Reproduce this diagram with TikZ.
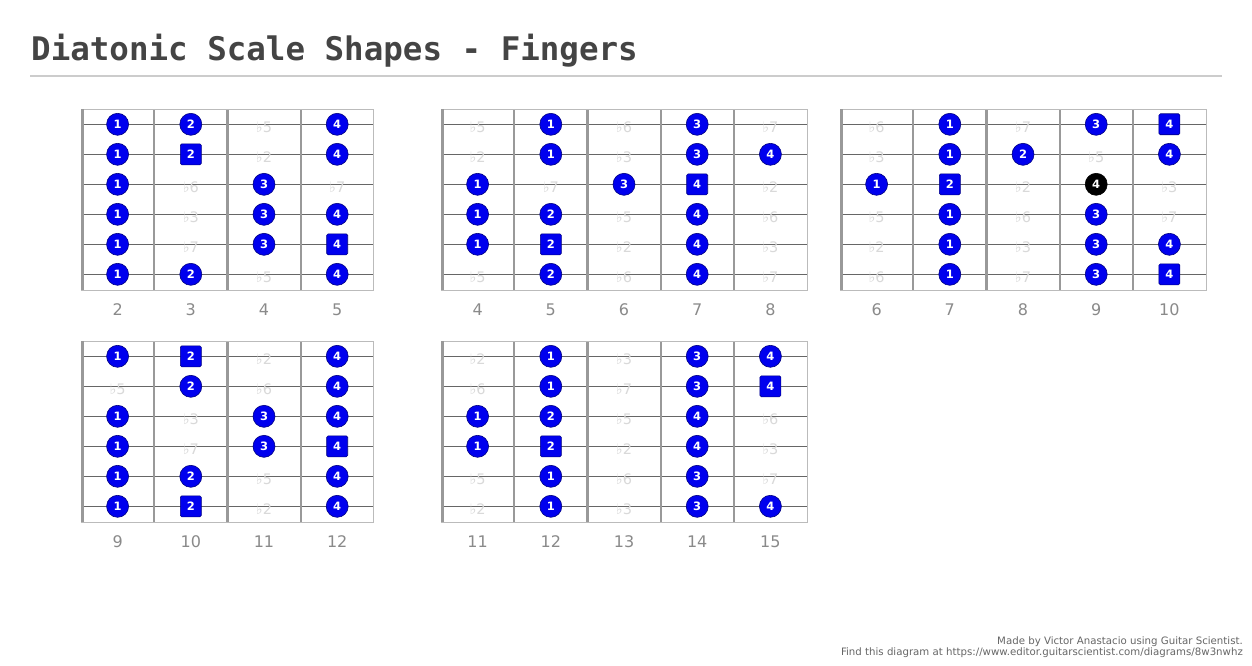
\documentclass[tikz,border=0pt]{standalone}
\usepackage{fontspec}
\setmainfont{DejaVu Sans}
\newfontfamily\titlefont{DejaVu Sans Mono}
\usepackage{xcolor}
\usepackage{tikz}
\usetikzlibrary{calc}

\definecolor{dotblue}{HTML}{0000EE}
\definecolor{ghostgray}{HTML}{D9D9D9}
\definecolor{fretgray}{HTML}{999999}
\definecolor{stringgray}{HTML}{666666}
\definecolor{boxgray}{HTML}{BBBBBB}
\definecolor{numgray}{HTML}{8A8A8A}
\definecolor{titlegray}{HTML}{444444}
\definecolor{rulegray}{HTML}{CCCCCC}
\definecolor{footgray}{HTML}{666666}

\tikzset{
  fnote/.style={circle, fill=dotblue, draw=dotblue!55!black, line width=0.6pt,
    minimum size=22pt, inner sep=0pt, text=white,
    font=\bfseries\fontsize{11.5}{11.5}\selectfont},
  froot/.style={fnote, rectangle, rounded corners=1.5pt, minimum size=21pt},
  fmark/.style={fnote, fill=black, draw=black},
  ghost/.style={text=ghostgray, inner sep=0pt, anchor=base, yshift=-8pt,
    font=\fontsize{14.5}{14.5}\selectfont},
  fretnum/.style={text=numgray, inner sep=0pt, font=\fontsize{16}{16}\selectfont}
}

% fretboard: name, left, top, number of frets, first fret, rows of notes
\newcommand{\fboard}[6]{%
  \begin{scope}[shift={(#2,#3)}]
    \pgfmathsetmacro\bw{#4*73.2}
    \pgfmathtruncatemacro\lastf{#4-1}
    % strings
    \foreach \s in {1,...,6}
      \draw[stringgray, line width=1pt] (0,{\s*30-15}) -- (\bw,{\s*30-15});
    % frets and nut
    \foreach \f in {1,...,\lastf}
      \draw[fretgray, line width=2.2pt] ({\f*73.2},0) -- ({\f*73.2},181);
    \draw[boxgray, line width=1pt] (0,0) rectangle (\bw,181);
    \draw[fretgray, line width=2.6pt] (1.2,0) -- (1.2,181);
    % fret numbers
    \foreach \c in {1,...,#4} {
      \pgfmathtruncatemacro\fn{#5+\c-1}
      \node[fretnum] (#1-n\c) at ({(\c-0.5)*73.2},200.7) {\fn};
    }
    % notes
    \foreach \r/\row in {#6}
      \foreach[count=\c] \k/\t in \row
        \node[\k] (#1-\r-\c) at ({(\c-0.5)*73.2},{\r*30-15}) {\t};
  \end{scope}}

\begin{document}
\begin{tikzpicture}[x=1pt, y=-1pt]
    \fill[white] (0,0) rectangle (1252,666);
    \useasboundingbox (0,0) rectangle (1252,666);

    % Title
    \node[anchor=base west, inner sep=0pt, text=titlegray,
      font=\titlefont\bfseries\fontsize{32.5}{32.5}\selectfont] (title) at (31,61)
      {Diatonic Scale Shapes - Fingers};
    \draw[rulegray, line width=2pt] (30,75.7) -- (1222,75.7);

    % Shapes, top row
    \fboard{a}{81}{109.3}{4}{2}{
      1/{fnote/1,fnote/2,ghost/♭5,fnote/4},
      2/{fnote/1,froot/2,ghost/♭2,fnote/4},
      3/{fnote/1,ghost/♭6,fnote/3,ghost/♭7},
      4/{fnote/1,ghost/♭3,fnote/3,fnote/4},
      5/{fnote/1,ghost/♭7,fnote/3,froot/4},
      6/{fnote/1,fnote/2,ghost/♭5,fnote/4}}
    \fboard{b}{441}{109.3}{5}{4}{
      1/{ghost/♭5,fnote/1,ghost/♭6,fnote/3,ghost/♭7},
      2/{ghost/♭2,fnote/1,ghost/♭3,fnote/3,fnote/4},
      3/{fnote/1,ghost/♭7,fnote/3,froot/4,ghost/♭2},
      4/{fnote/1,fnote/2,ghost/♭5,fnote/4,ghost/♭6},
      5/{fnote/1,froot/2,ghost/♭2,fnote/4,ghost/♭3},
      6/{ghost/♭5,fnote/2,ghost/♭6,fnote/4,ghost/♭7}}
    \fboard{c}{840}{109.3}{5}{6}{
      1/{ghost/♭6,fnote/1,ghost/♭7,fnote/3,froot/4},
      2/{ghost/♭3,fnote/1,fnote/2,ghost/♭5,fnote/4},
      3/{fnote/1,froot/2,ghost/♭2,fmark/4,ghost/♭3},
      4/{ghost/♭5,fnote/1,ghost/♭6,fnote/3,ghost/♭7},
      5/{ghost/♭2,fnote/1,ghost/♭3,fnote/3,fnote/4},
      6/{ghost/♭6,fnote/1,ghost/♭7,fnote/3,froot/4}}

    % Shapes, bottom row
    \fboard{d}{81}{341.3}{4}{9}{
      1/{fnote/1,froot/2,ghost/♭2,fnote/4},
      2/{ghost/♭5,fnote/2,ghost/♭6,fnote/4},
      3/{fnote/1,ghost/♭3,fnote/3,fnote/4},
      4/{fnote/1,ghost/♭7,fnote/3,froot/4},
      5/{fnote/1,fnote/2,ghost/♭5,fnote/4},
      6/{fnote/1,froot/2,ghost/♭2,fnote/4}}
    \fboard{e}{441}{341.3}{5}{11}{
      1/{ghost/♭2,fnote/1,ghost/♭3,fnote/3,fnote/4},
      2/{ghost/♭6,fnote/1,ghost/♭7,fnote/3,froot/4},
      3/{fnote/1,fnote/2,ghost/♭5,fnote/4,ghost/♭6},
      4/{fnote/1,froot/2,ghost/♭2,fnote/4,ghost/♭3},
      5/{ghost/♭5,fnote/1,ghost/♭6,fnote/3,ghost/♭7},
      6/{ghost/♭2,fnote/1,ghost/♭3,fnote/3,fnote/4}}

    % Credits
    \node[anchor=east, align=right, inner sep=0pt, text=footgray,
      font=\fontsize{10.2}{11}\selectfont] (credit) at (1243,647.5)
      {Made by Victor Anastacio using Guitar Scientist.\\
       Find this diagram at https://www.editor.guitarscientist.com/diagrams/8w3nwhz};
\end{tikzpicture}
\end{document}
